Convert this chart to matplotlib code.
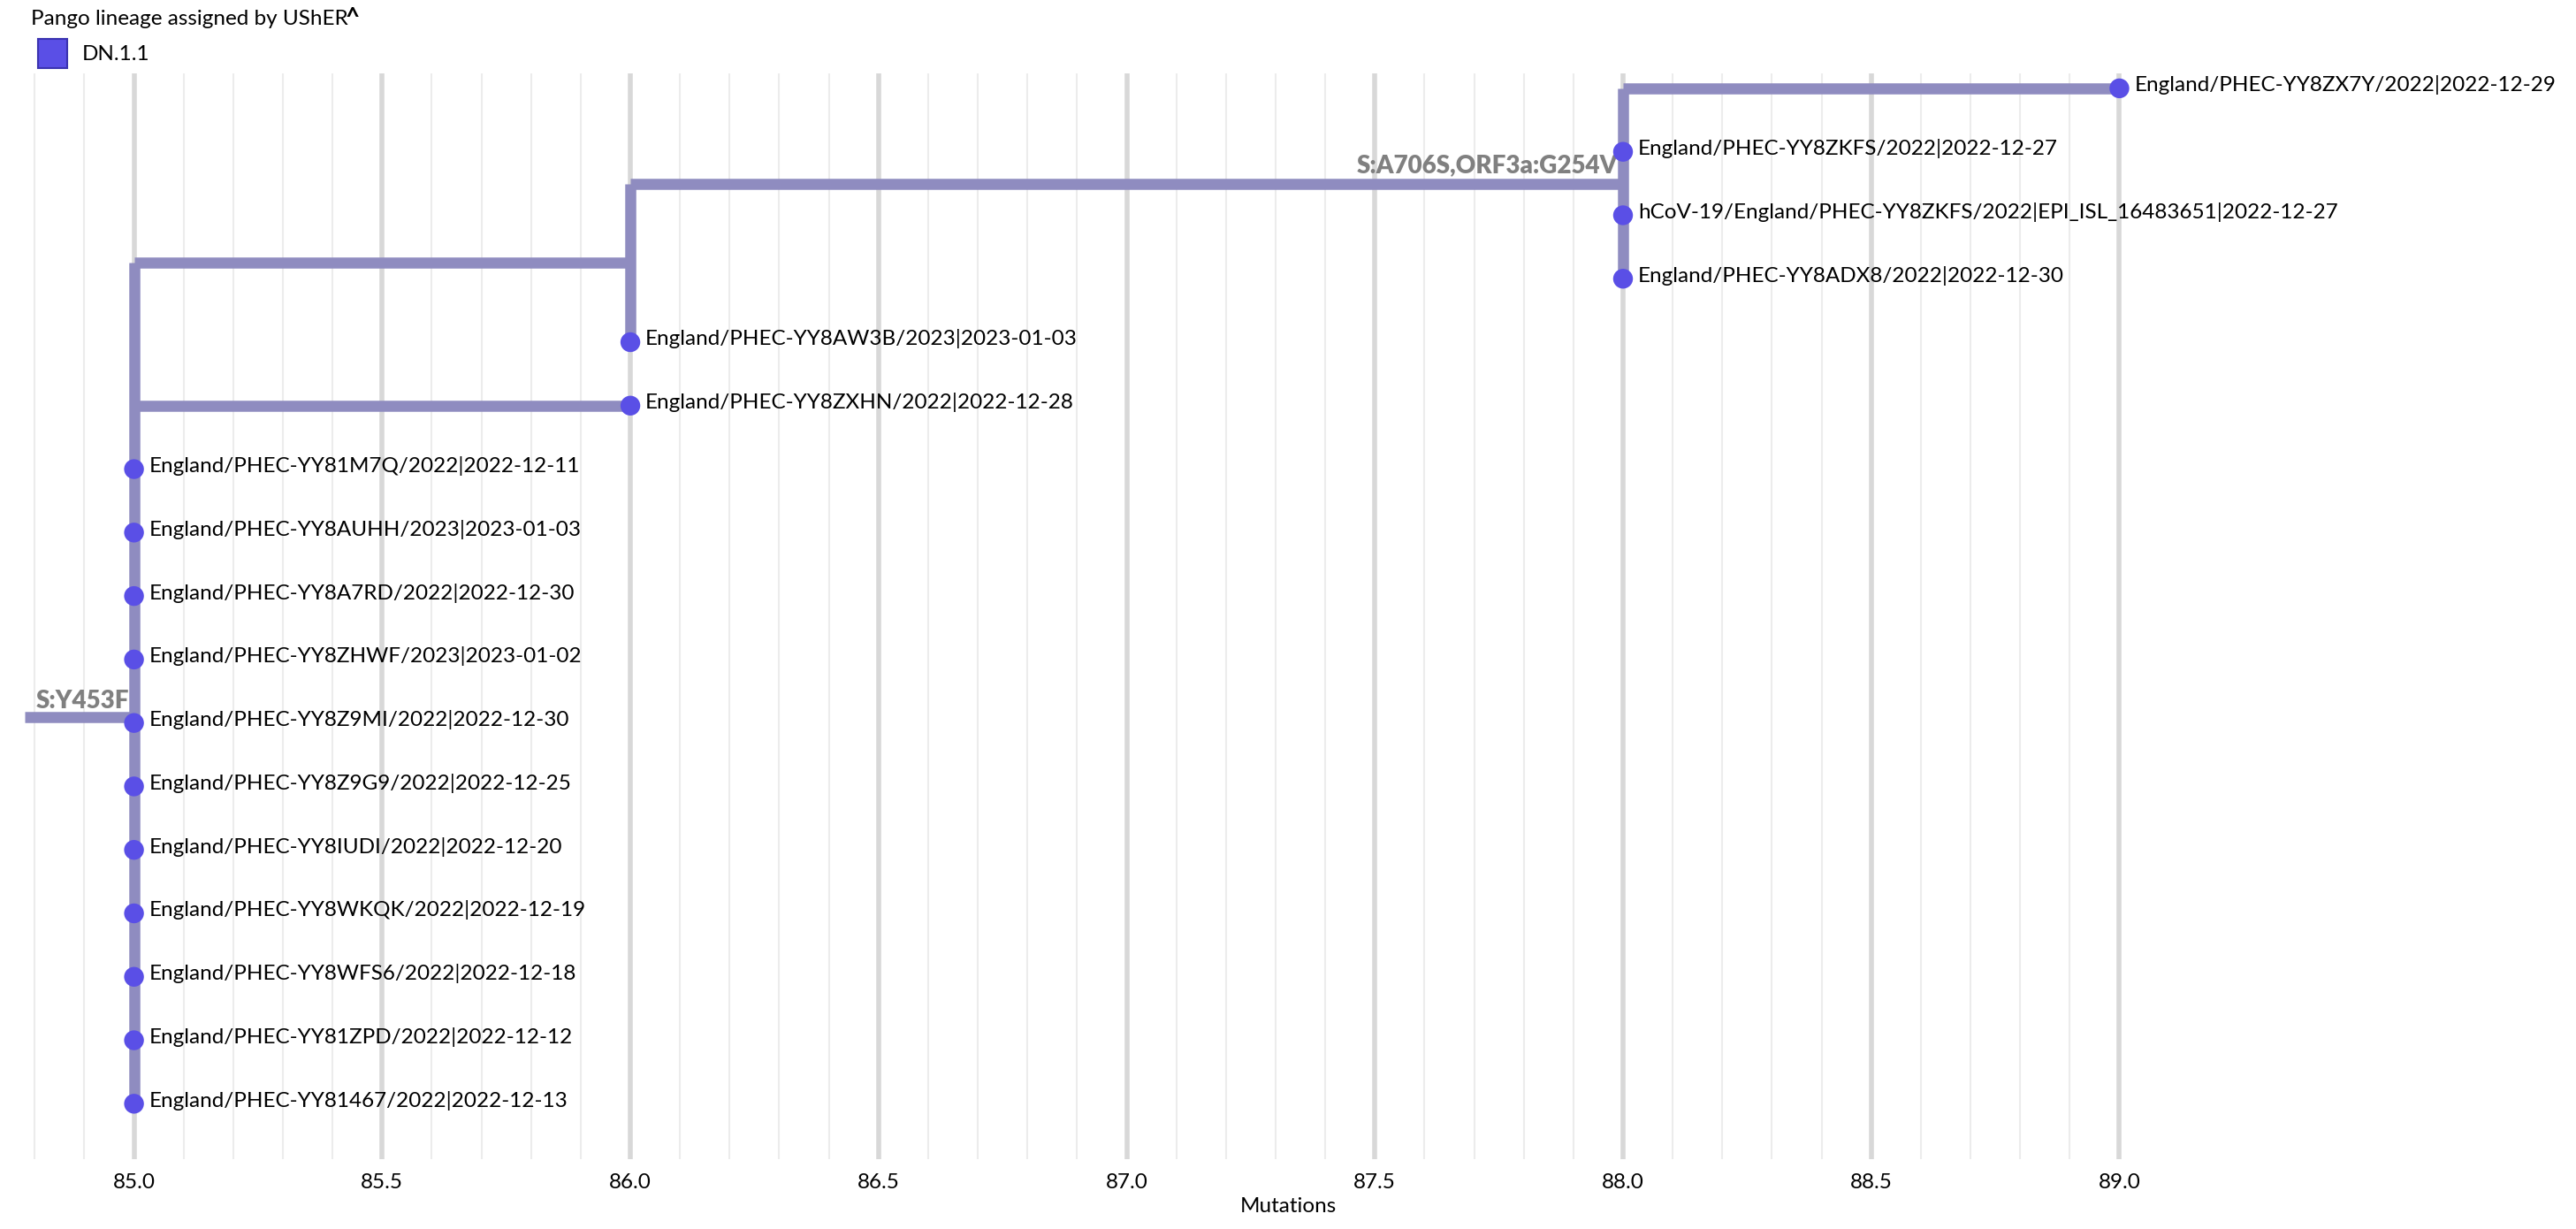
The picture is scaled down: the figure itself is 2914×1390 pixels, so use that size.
import matplotlib
matplotlib.use("Agg")
import matplotlib.pyplot as plt
import numpy as np

plt.rcParams['font.family'] = ['Lato', 'DejaVu Sans']

leaf_names = [
    "England/PHEC-YY8ZX7Y/2022|2022-12-29",
    "England/PHEC-YY8ZKFS/2022|2022-12-27",
    "hCoV-19/England/PHEC-YY8ZKFS/2022|EPI_ISL_16483651|2022-12-27",
    "England/PHEC-YY8ADX8/2022|2022-12-30",
    "England/PHEC-YY8AW3B/2023|2023-01-03",
    "England/PHEC-YY8ZXHN/2022|2022-12-28",
    "England/PHEC-YY81M7Q/2022|2022-12-11",
    "England/PHEC-YY8AUHH/2023|2023-01-03",
    "England/PHEC-YY8A7RD/2022|2022-12-30",
    "England/PHEC-YY8ZHWF/2023|2023-01-02",
    "England/PHEC-YY8Z9MI/2022|2022-12-30",
    "England/PHEC-YY8Z9G9/2022|2022-12-25",
    "England/PHEC-YY8IUDI/2022|2022-12-20",
    "England/PHEC-YY8WKQK/2022|2022-12-19",
    "England/PHEC-YY8WFS6/2022|2022-12-18",
    "England/PHEC-YY81ZPD/2022|2022-12-12",
    "England/PHEC-YY81467/2022|2022-12-13",
]
leaf_mut = [89, 88, 88, 88, 86, 86] + [85] * 11
node_mut = {"n88": 88, "n86": 86, "n85": 85}
node_children = {"n88": [0, 1, 2, 3], "n86": ["n88", 4], "n85": ["n86", 5] + list(range(6, 17))}
root_x = 84.78
branch_labels = {"n88": "S:A706S,ORF3a:G254V", "n85": "S:Y453F"}
lineage = "DN.1.1"

LINE = "#8f8cc0"
DOT = "#5a4fe6"

fig = plt.figure(figsize=(29.14, 13.9), dpi=100)
ax = fig.add_axes([0.0, 0.057, 1.0, 0.883])
ax.set_xlim(84.73, 89.92)
ax.set_ylim(16.87, -0.23)
for s in ax.spines.values():
    s.set_visible(False)

for v in np.arange(84.8, 89.05, 0.1):
    major = abs(v * 2 - round(v * 2)) < 1e-6
    ax.axvline(v, color="#d8d8d8" if major else "#ececec", lw=4 if major else 1.5, zorder=0)

ypos = {}
xpos = {}
for i, m in enumerate(leaf_mut):
    ypos[i] = i
    xpos[i] = m

def place(n):
    if n in ypos:
        return ypos[n]
    ys = [place(c) for c in node_children[n]]
    ypos[n] = np.mean(ys)
    xpos[n] = node_mut[n]
    return ypos[n]

place("n85")
lw = 9
def draw(n):
    if n not in node_children:
        return
    ys = [ypos[c] for c in node_children[n]]
    ax.plot([xpos[n], xpos[n]], [min(ys), max(ys)], color=LINE, lw=lw, solid_capstyle="butt", zorder=2)
    for c in node_children[n]:
        ax.plot([xpos[n], xpos[c]], [ypos[c], ypos[c]], color=LINE, lw=lw, solid_capstyle="butt", zorder=2)
        draw(c)
draw("n85")
ax.plot([root_x, xpos["n85"]], [ypos["n85"]] * 2, color=LINE, lw=lw, solid_capstyle="butt", zorder=2)

for i, name in enumerate(leaf_names):
    ax.scatter(xpos[i], ypos[i], s=260, color=DOT, zorder=4, edgecolors="none")
    ax.text(xpos[i] + 0.03, ypos[i] - 0.05, name, fontsize=17.5, va="center", ha="left", zorder=5)

ax.text(xpos["n85"] - 0.01, ypos["n85"] - 0.25, branch_labels["n85"], fontsize=20, fontweight="heavy",
        color="#808080", ha="right", va="center")
ax.text(xpos["n88"] - 0.01, ypos["n88"] - 0.28, branch_labels["n88"], fontsize=20, fontweight="heavy",
        color="#808080", ha="right", va="center")

ax.set_xticks([85.0, 85.5, 86.0, 86.5, 87.0, 87.5, 88.0, 88.5, 89.0])
ax.set_xticklabels([f"{v:.1f}" for v in ax.get_xticks()], fontsize=17.5)
ax.tick_params(axis="x", length=0, pad=12)
ax.set_yticks([])
ax.set_xlabel("Mutations", fontsize=17.5, labelpad=4)

fig.text(0.012, 0.992, "Pango lineage assigned by UShER", fontsize=17.5, va="top", ha="left")
fig.text(0.134, 0.994, "^", fontsize=20, fontweight="bold", va="top", ha="left")
fig.patches.append(plt.Rectangle((0.0147, 0.9445), 0.0115, 0.024, transform=fig.transFigure,
                                 facecolor=DOT, edgecolor="#3b33b0", lw=1.5))
fig.text(0.032, 0.956, lineage, fontsize=17.5, va="center", ha="left")

fig.savefig("out.png", dpi=100)
